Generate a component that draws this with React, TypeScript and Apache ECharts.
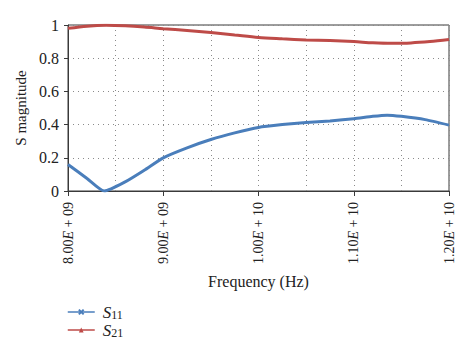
import React, { useEffect, useRef } from "react";
import * as echarts from "echarts";

const freqS11 = [8.0e9, 8.2e9, 8.38e9, 8.6e9, 8.8e9, 9.0e9, 9.25e9, 9.5e9, 9.75e9, 10.0e9, 10.25e9, 10.5e9, 10.75e9, 11.0e9, 11.2e9, 11.35e9, 11.5e9, 11.75e9, 12.0e9];
const s11 = [0.16, 0.075, 0.0, 0.055, 0.125, 0.2, 0.26, 0.31, 0.35, 0.383, 0.40, 0.413, 0.422, 0.435, 0.45, 0.457, 0.45, 0.43, 0.397];
const freqS21 = [8.0e9, 8.2e9, 8.4e9, 8.6e9, 8.8e9, 9.0e9, 9.25e9, 9.5e9, 9.75e9, 10.0e9, 10.25e9, 10.5e9, 10.75e9, 11.0e9, 11.2e9, 11.4e9, 11.6e9, 11.8e9, 12.0e9];
const s21 = [0.98, 0.993, 0.998, 0.995, 0.988, 0.978, 0.967, 0.955, 0.94, 0.925, 0.917, 0.91, 0.906, 0.9, 0.893, 0.89, 0.892, 0.9, 0.912];
const xTickLabels: Record<string, string> = {
  "8000000000": "8.00{i|E} + 09",
  "9000000000": "9.00{i|E} + 09",
  "10000000000": "1.00{i|E} + 10",
  "11000000000": "1.10{i|E} + 10",
  "12000000000": "1.20{i|E} + 10",
};
const yTicks = ["0", "0.2", "0.4", "0.6", "0.8", "1"];
const seriesNames = ["S11", "S21"];

const serif = "Liberation Serif";

export default function App() {
  const ref = useRef<HTMLDivElement>(null);
  useEffect(() => {
    if (!ref.current) return;
    const chart = echarts.init(ref.current, null, { renderer: "svg" });
    const dotted = { color: "#8a8a8a", width: 1, type: [1, 4] as any };
    chart.setOption({
      animation: false,
      backgroundColor: "#ffffff",
      grid: {
        left: 68,
        top: 25,
        right: 25,
        bottom: 166,
        show: true,
        borderColor: "#3a3a3a",
        borderWidth: 1,
      },
      legend: {
        orient: "vertical",
        left: 62,
        top: 298,
        itemWidth: 27,
        itemHeight: 6,
        itemGap: 0,
        data: seriesNames,
        lineStyle: { width: 1.5 },
        formatter: (n: string) => `{s|S}{sub|${n.slice(1)}}`,
        textStyle: {
          fontFamily: serif,
          color: "#222",
          padding: [0, 0, 0, 3],
          rich: {
            s: { fontFamily: serif, fontStyle: "italic", fontSize: 17, lineHeight: 16, color: "#222" },
            sub: { fontFamily: serif, fontSize: 12, lineHeight: 10, color: "#222", padding: [6, 0, 0, 0] },
          },
        },
      },
      xAxis: {
        type: "value",
        min: 8e9,
        max: 1.2e10,
        interval: 1e9,
        name: "Frequency (Hz)",
        nameLocation: "middle",
        nameGap: 82,
        nameTextStyle: { fontFamily: serif, fontSize: 16, color: "#222" },
        axisLine: { show: true, lineStyle: { color: "#3a3a3a", width: 1 } },
        axisTick: { show: true, inside: false, length: 5, lineStyle: { color: "#3a3a3a" } },
        axisLabel: {
          rotate: 90,
          margin: 11,
          fontFamily: serif,
          fontSize: 14,
          color: "#222",
          formatter: (v: number) => xTickLabels[String(Math.round(v))] ?? "",
          rich: { i: { fontFamily: serif, fontStyle: "italic", fontSize: 14, color: "#222" } },
        },
        splitLine: { show: true, lineStyle: dotted },
        minorTick: { show: false, splitNumber: 2 },
        minorSplitLine: { show: true, lineStyle: dotted },
      },
      yAxis: {
        type: "value",
        min: 0,
        max: 1,
        interval: 0.2,
        name: "S magnitude",
        nameLocation: "middle",
        nameGap: 36,
        nameTextStyle: { fontFamily: serif, fontSize: 15, color: "#222" },
        axisLine: { show: true, lineStyle: { color: "#3a3a3a", width: 1 } },
        axisTick: { show: true, inside: false, length: 4, lineStyle: { color: "#3a3a3a" } },
        axisLabel: {
          margin: 9,
          fontFamily: serif,
          fontSize: 16,
          color: "#222",
          formatter: (v: number) => yTicks[Math.round(v * 5)] ?? "",
        },
        splitLine: { show: true, lineStyle: dotted },
      },
      series: [
        {
          name: seriesNames[0],
          type: "line",
          data: freqS11.map((f, i) => [f, s11[i]]),
          symbol: "path://M0,0 L10,10 M10,0 L0,10",
          symbolSize: 5,
          showSymbol: false,
          smooth: 0.2,
          lineStyle: { color: "#4a7ebb", width: 3 },
          itemStyle: { color: "#4a7ebb", borderColor: "#4a7ebb", borderWidth: 1.5 },
        },
        {
          name: seriesNames[1],
          type: "line",
          data: freqS21.map((f, i) => [f, s21[i]]),
          symbol: "triangle",
          symbolSize: 5,
          showSymbol: false,
          smooth: 0.3,
          lineStyle: { color: "#be4b48", width: 3 },
          itemStyle: { color: "#be4b48" },
        },
      ],
    });
    return () => chart.dispose();
  }, []);
  return <div ref={ref} style={{ width: 474, height: 357, margin: -8 }} />;
}
